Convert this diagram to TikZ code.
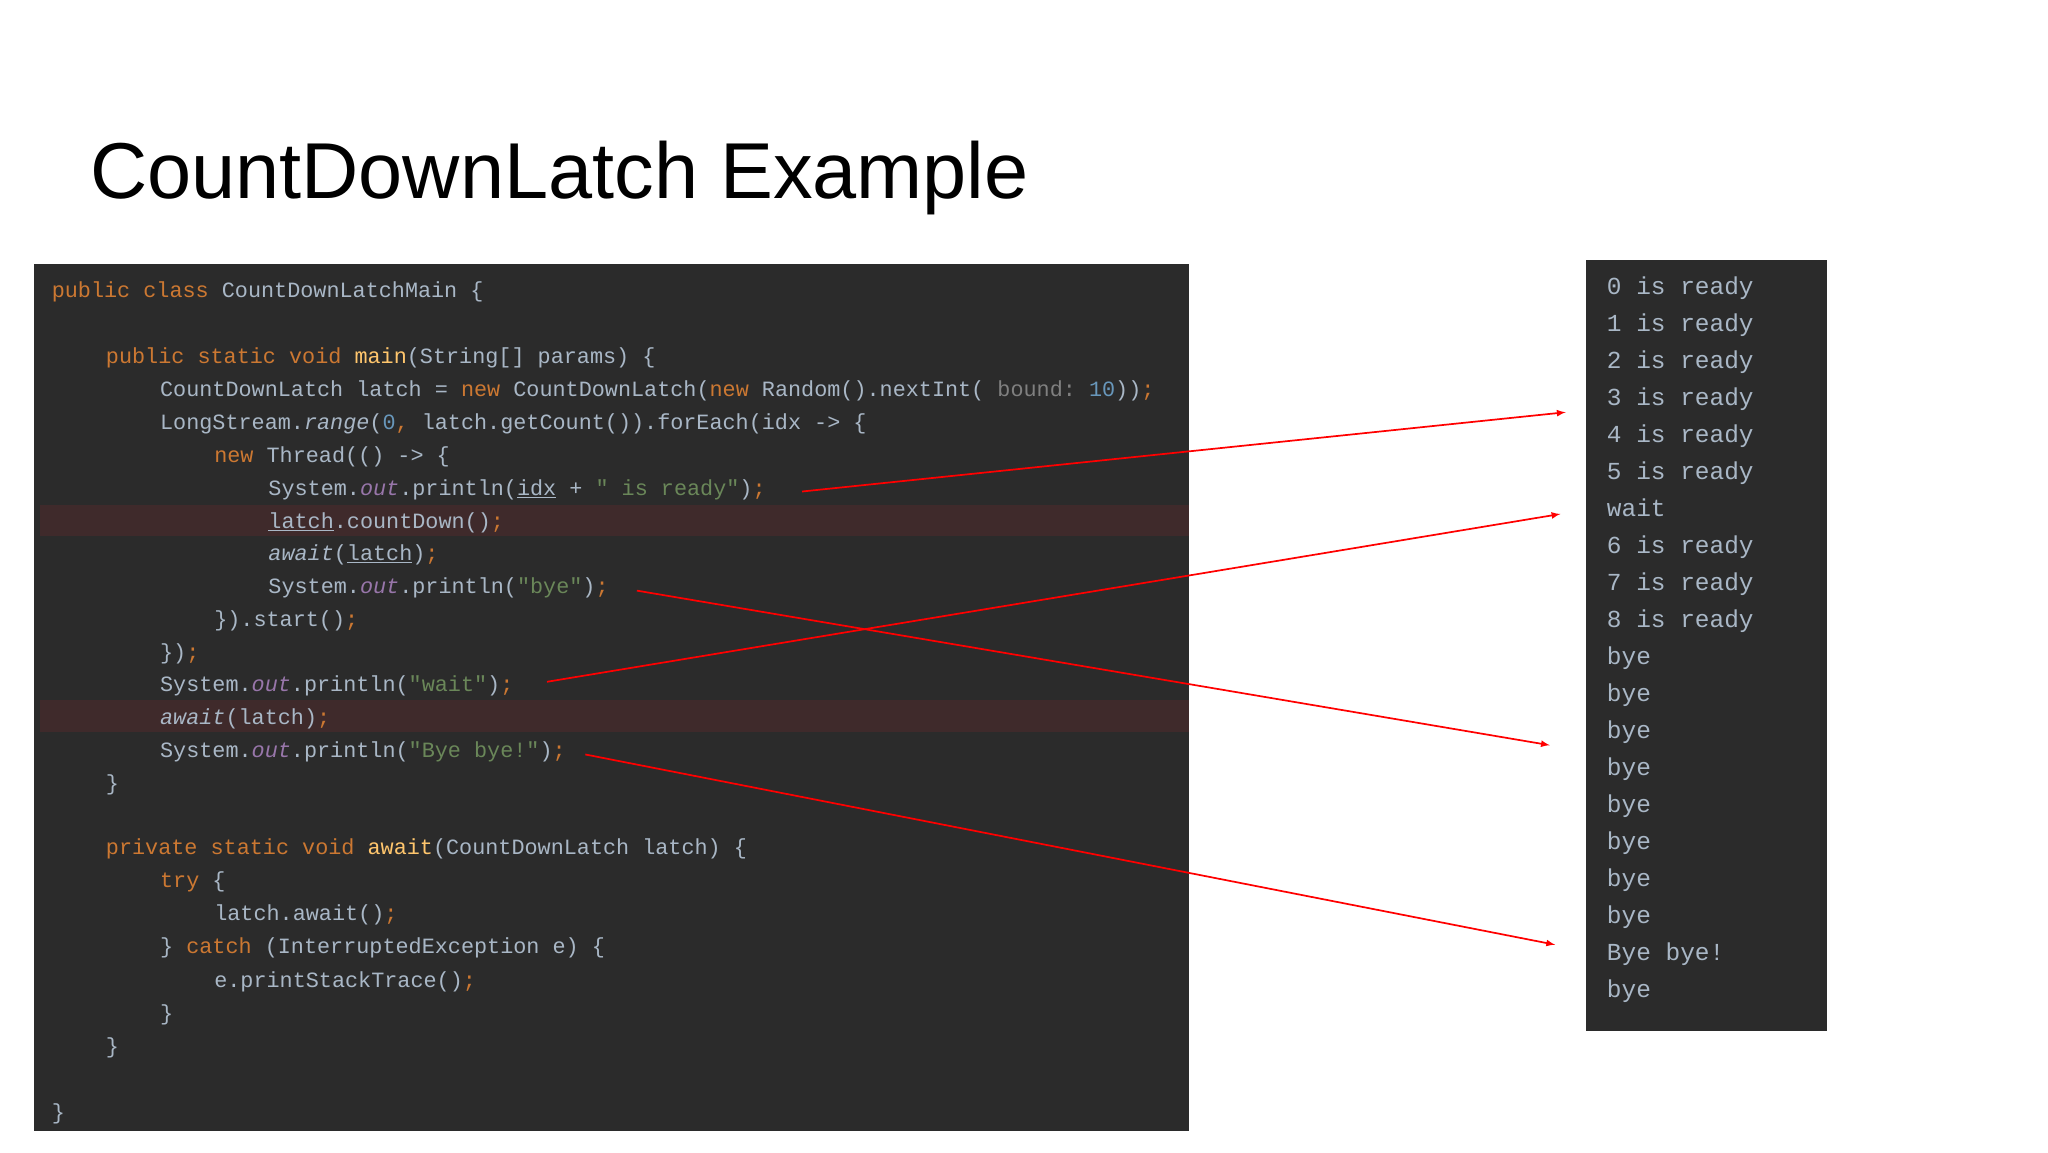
\documentclass[tikz,border=0pt]{standalone}
\usepackage{fontspec}
\setmainfont{Liberation Sans}
\setmonofont{Liberation Mono}
\definecolor{bgc}{HTML}{2B2B2B}
\definecolor{txc}{HTML}{A9B7C6}
\definecolor{kwc}{HTML}{CC7832}
\definecolor{stc}{HTML}{6A8759}
\definecolor{nmc}{HTML}{6897BB}
\definecolor{ouc}{HTML}{9876AA}
\definecolor{fnc}{HTML}{FFC66D}
\definecolor{hlc}{HTML}{3F2A2B}
\newcommand{\kwd}[1]{\textcolor{kwc}{#1}}
\newcommand{\str}[1]{\textcolor{stc}{#1}}
\newcommand{\num}[1]{\textcolor{nmc}{#1}}
\newcommand{\outf}[1]{\textcolor{ouc}{\itshape #1}}
\newcommand{\fnn}[1]{\textcolor{fnc}{#1}}
\begin{document}
\begin{tikzpicture}[x=1pt,y=-1pt,
  code/.style={anchor=base west,inner sep=0pt,font=\ttfamily\fontsize{16.5}{18}\selectfont,text=txc},
  outl/.style={anchor=base west,inner sep=0pt,font=\ttfamily\fontsize{18.5}{20}\selectfont,text=txc},
  arr/.style={red,line width=1.3pt,-latex}]
\useasboundingbox (0,0) rectangle (1550,872);
\fill[white] (0,0) rectangle (1550,872);
\node[anchor=base west,inner sep=0pt,font=\fontsize{60}{70}\selectfont] (title) at (68,150) {CountDownLatch Example};
\fill[bgc] (26,200) rectangle (900,856);
\fill[hlc] (30,382) rectangle (900,406);
\fill[hlc] (30,530) rectangle (900,554);
\fill[bgc] (1200,197) rectangle (1383,780);
\node[code] (l1) at (39,225) {\kwd{public class} CountDownLatchMain \{};
\node[code] (l3) at (80,275) {\kwd{public static void} \fnn{main}(String[] params) \{};
\node[code] (l4) at (121,300) {CountDownLatch latch = \kwd{new} CountDownLatch(\kwd{new} Random().nextInt( \textcolor{gray}{bound:} \num{10}))\kwd{;}};
\node[code] (l5) at (121,325) {LongStream.\textit{range}(\num{0}\kwd{,} latch.getCount()).forEach(idx -> \{};
\node[code] (l6) at (162,350) {\kwd{new} Thread(() -> \{};
\node[code] (l7) at (203,375) {System.\outf{out}.println(\underline{idx} + \str{" is ready"})\kwd{;}};
\node[code] (l8) at (203,400) {\underline{latch}.countDown()\kwd{;}};
\node[code] (l9) at (203,424) {\textit{await}(\underline{latch})\kwd{;}};
\node[code] (l10) at (203,449) {System.\outf{out}.println(\str{"bye"})\kwd{;}};
\node[code] (l11) at (162,474) {\}).start()\kwd{;}};
\node[code] (l12) at (121,499) {\})\kwd{;}};
\node[code] (l13) at (121,523) {System.\outf{out}.println(\str{"wait"})\kwd{;}};
\node[code] (l14) at (121,548) {\textit{await}(latch)\kwd{;}};
\node[code] (l15) at (121,573) {System.\outf{out}.println(\str{"Bye bye!"})\kwd{;}};
\node[code] (l16) at (80,598) {\}};
\node[code] (l18) at (80,647) {\kwd{private static void} \fnn{await}(CountDownLatch latch) \{};
\node[code] (l19) at (121,672) {\kwd{try} \{};
\node[code] (l20) at (162,697) {latch.await()\kwd{;}};
\node[code] (l21) at (121,722) {\} \kwd{catch} (InterruptedException e) \{};
\node[code] (l22) at (162,747) {e.printStackTrace()\kwd{;}};
\node[code] (l23) at (121,772) {\}};
\node[code] (l24) at (80,797) {\}};
\node[code] (l26) at (39,847) {\}};
\foreach \t [count=\i] in {0 is ready,1 is ready,2 is ready,3 is ready,4 is ready,5 is ready,wait,6 is ready,7 is ready,8 is ready,bye,bye,bye,bye,bye,bye,bye,bye,Bye bye!,bye}
  \node[outl] (o\i) at (1216,{223+28*(\i-1)}) {\t};
\coordinate (s1) at (607,372); \coordinate (e1) at (1185,312);
\coordinate (s2) at (414,516); \coordinate (e2) at (1181,389);
\coordinate (s3) at (482,447); \coordinate (e3) at (1173,564);
\coordinate (s4) at (443,571); \coordinate (e4) at (1177,715);
\draw[arr] (s1) -- (e1);
\draw[arr] (s2) -- (e2);
\draw[arr] (s3) -- (e3);
\draw[arr] (s4) -- (e4);
\end{tikzpicture}
\end{document}
